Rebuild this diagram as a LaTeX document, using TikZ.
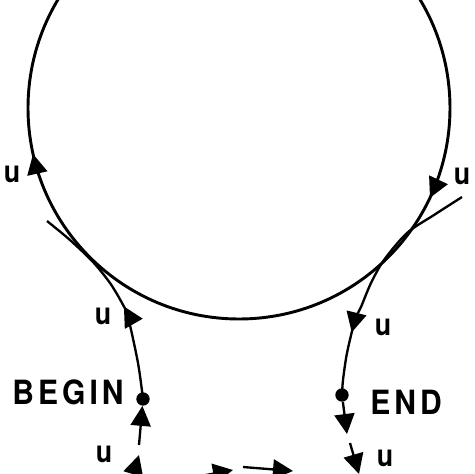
\documentclass[tikz,border=0pt]{standalone}
\usepackage{fontspec}
\setmainfont{TeX Gyre Heros}
\newfontfamily\labfont[LetterSpace=12,FakeStretch=0.9]{TeX Gyre Heros Bold}
\newfontfamily\ufont[FakeStretch=0.88]{TeX Gyre Heros Bold}
\usetikzlibrary{arrows.meta,decorations.markings}
\tikzset{
  curve/.style={line width=2pt},
  circ/.style={line width=2.5pt},
  tri/.tip={Triangle[length=0.6cm,width=0.6cm]},
  mid arrow/.style={postaction={decorate},
    decoration={markings, mark=at position #1 with {\arrow{tri}}}},
  tipend/.style={-tri},
  statedot/.style={circle, fill, inner sep=0pt, minimum size=0.4cm},
  ulabel/.style={font=\ufont\fontsize{26}{28}\selectfont, inner sep=0pt},
  biglabel/.style={font=\labfont\fontsize{28.5}{30}\selectfont, inner sep=0pt},
}
\begin{document}
\begin{tikzpicture}[x=0.03cm,y=-0.03cm]
\useasboundingbox (0,0) rectangle (474,474);
\clip (0,0) rectangle (474,474);
\coordinate (c) at (239,108);
\draw[circ, postaction={decorate},
  decoration={markings,
    mark=at position 0.07 with {\arrow{tri}},
    mark=at position 0.465 with {\arrow{tri}}}]
  (c) circle[radius=211];
\node[statedot] (b) at (143,399) {};
\node[statedot] (e) at (342,395) {};
\draw[curve, mid arrow=0.45] plot[smooth] coordinates
  {(143,399) (138,363) (128,317) (122,303) (110,283) (93,262) (70,240) (47,221)};
\draw[curve, mid arrow=0.74] plot[smooth] coordinates
  {(462,197) (434,215) (407,233) (384,260) (371,283) (361,307) (355,320) (347,353) (343,380) (342,395)};
\coordinate (bs) at (139,445);
\draw[curve, tipend] (bs) -- (b);
\coordinate (ea) at (347,434);
\draw[curve, tipend] (e) -- (ea);
\coordinate (es) at (350,443);
\coordinate (ee) at (359,474);
\draw[curve, tipend] (es) -- (ee);
\coordinate (bls) at (127,495);
\coordinate (ble) at (139,455);
\draw[curve, tipend] (bls) -- (ble);
\coordinate (m1s) at (190,478);
\coordinate (m1e) at (233,470);
\draw[curve, tipend] (m1s) -- (m1e);
\coordinate (m2s) at (243,467);
\coordinate (m2e) at (293,471);
\draw[curve, tipend] (m2s) -- (m2e);
\node[ulabel] (u1) at (12,174) {u};
\node[ulabel] (u2) at (462,176) {u};
\node[ulabel] (u3) at (103,316) {u};
\node[ulabel] (u4) at (383,327) {u};
\node[ulabel] (u5) at (104,454) {u};
\node[ulabel] (u6) at (385,458) {u};
\node[biglabel] (begin) at (68,392) {BEGIN};
\node[biglabel] (end) at (406,402) {END};
\end{tikzpicture}
\end{document}
